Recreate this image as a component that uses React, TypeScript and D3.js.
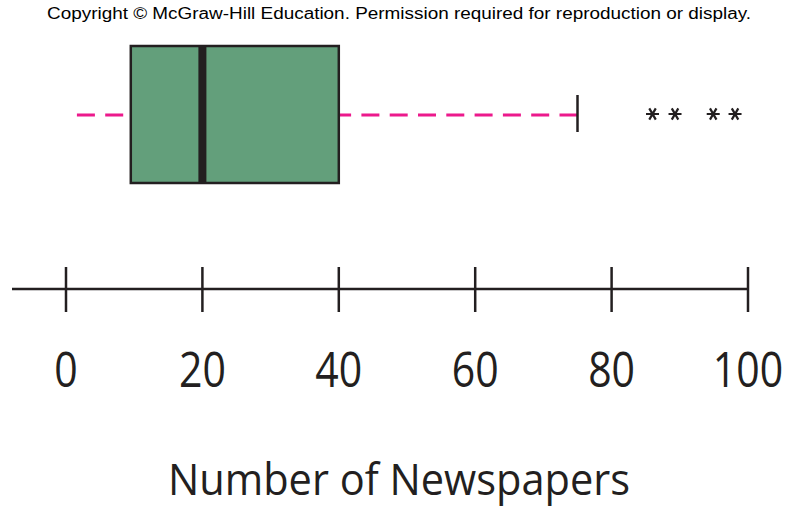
import React from "react";
import * as d3 from "d3";

const tickValues = [0, 20, 40, 60, 80, 100];
const whiskerMin = [1.6];
const q1 = [9.5];
const median = [20];
const q3 = [40];
const whiskerMax = [75];
const outliers = [86, 89.3, 94.9, 98.1];
const axisTitle = "Number of Newspapers";
const copyright = "Copyright © McGraw-Hill Education. Permission required for reproduction or display.";

export default function App() {
  const W = 800, H = 518;
  const x = d3.scaleLinear().domain([0, 100]).range([66, 748]);
  const boxTop = 46, boxBottom = 183, midY = 115;
  const axisY = 289;
  const pink = "#ec198c";
  const dark = "#231f20";

  const star = (cx: number, cy: number, r: number) => {
    const angles = [0, 60, 120].map((a) => (a * Math.PI) / 180);
    return angles
      .map((a) => `M${cx - r * Math.cos(a)},${cy - r * Math.sin(a)}L${cx + r * Math.cos(a)},${cy + r * Math.sin(a)}`)
      .join("");
  };

  return (
    <svg width={W} height={H} style={{ position: "absolute", left: 0, top: 0, background: "#fff" }}>
      <text x={47} y={19} fontFamily="Liberation Sans, Arial" fontSize={16} textLength={704} lengthAdjust="spacingAndGlyphs" fill="#000">
        {copyright}
      </text>

      {/* whiskers: drawn from extreme toward box */}
      <line x1={x(whiskerMin[0])} x2={x(q1[0])} y1={midY} y2={midY} stroke={pink} strokeWidth={3} strokeDasharray="18 10.3" />
      <line x1={x(whiskerMax[0])} x2={x(q3[0])} y1={midY} y2={midY} stroke={pink} strokeWidth={3} strokeDasharray="18 10.3" />
      <line x1={x(whiskerMax[0])} x2={x(whiskerMax[0])} y1={95} y2={132} stroke={dark} strokeWidth={2.5} />

      {/* box */}
      <rect x={x(q1[0])} y={boxTop} width={x(q3[0]) - x(q1[0])} height={boxBottom - boxTop} fill="#639f7b" stroke={dark} strokeWidth={2.5} />
      <line x1={x(median[0])} x2={x(median[0])} y1={boxTop} y2={boxBottom} stroke={dark} strokeWidth={8} />

      {/* outliers */}
      {outliers.map((v, i) => (
        <path key={i} d={star(x(v), 114, 6.5)} stroke={dark} strokeWidth={2.2} fill="none" />
      ))}

      {/* axis */}
      <line x1={12} x2={x(100)} y1={axisY} y2={axisY} stroke={dark} strokeWidth={2.5} />
      {tickValues.map((t) => (
        <g key={t}>
          <line x1={x(t)} x2={x(t)} y1={267} y2={312} stroke={dark} strokeWidth={2.5} />
          <text
            x={x(t)}
            y={387}
            textAnchor="middle"
            fontFamily="Open Sans"
            fontSize={50}
            fill={dark}
            transform={`translate(${x(t)},0) scale(0.82,1) translate(${-x(t)},0)`}
          >
            {t}
          </text>
        </g>
      ))}
      <text x={399} y={495} textAnchor="middle" fontFamily="Open Sans" fontSize={44} fill={dark} textLength={462} lengthAdjust="spacingAndGlyphs">
        {axisTitle}
      </text>
    </svg>
  );
}
